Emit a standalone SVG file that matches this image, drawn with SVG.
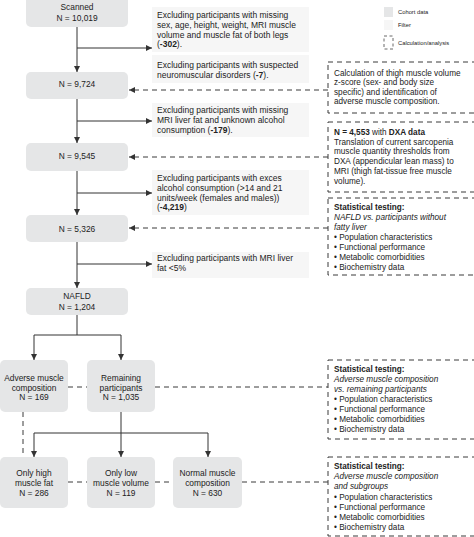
<svg xmlns="http://www.w3.org/2000/svg" width="474" height="537" viewBox="0 0 474 537">
<style>
text{font-family:"Liberation Sans",Arial,sans-serif;fill:#222}
.c{font-size:8.4px;text-anchor:middle}
.f{font-size:8.2px}
.ff{font-size:8.5px}
.lg{font-size:5.8px}
.b{font-weight:bold}
.i{font-style:italic}
.cohort{fill:#e5e6e7}
.filter{fill:#f6f6f6}
.calc{fill:none;stroke:#3a3a3a;stroke-width:1;stroke-dasharray:5 4}
.ln{fill:none;stroke:#333;stroke-width:1}
.dl{fill:none;stroke:#3a3a3a;stroke-width:1;stroke-dasharray:5 4}
</style>
<defs>
<marker id="ah" viewBox="0 0 10 10" refX="10" refY="5" markerWidth="7" markerHeight="6" orient="auto" markerUnits="userSpaceOnUse">
<path d="M0,0 L10,5 L0,10 z" fill="#333"/>
</marker>
</defs>
<rect width="474" height="537" fill="#fff"/>

<g id="legend">
<rect x="384" y="7" width="9" height="10" class="cohort"/>
<text x="398" y="14" class="lg">Cohort data</text>
<rect x="384" y="20" width="9" height="10" class="filter"/>
<text x="398" y="27" class="lg">Filter</text>
<rect x="384" y="36" width="9" height="13" fill="none" stroke="#444" stroke-width="0.8" stroke-dasharray="3 2.5"/>
<text x="398" y="45" class="lg">Calculation/analysis</text>
</g>

<g id="filters">
<g id="filter1">
<rect x="152" y="7" width="157" height="45" class="filter"/>
<text class="ff"><tspan x="157" y="18">Excluding participants with missing</tspan><tspan x="157" y="28">sex, age, height, weight, MRI muscle</tspan><tspan x="157" y="37.5">volume and muscle fat of both legs</tspan><tspan x="157" y="47">(<tspan class="b">-302</tspan>).</tspan></text>
</g>
<g id="filter2">
<rect x="152" y="55" width="157" height="28" class="filter"/>
<text class="ff"><tspan x="157" y="68">Excluding participants with suspected</tspan><tspan x="157" y="77.5">neuromuscular disorders (<tspan class="b">-7</tspan>).</tspan></text>
</g>
<g id="filter3">
<rect x="152" y="103" width="157" height="34" class="filter"/>
<text class="ff"><tspan x="157" y="113">Excluding participants with missing</tspan><tspan x="157" y="123">MRI liver fat and unknown alcohol</tspan><tspan x="157" y="132.5">consumption (<tspan class="b">-179</tspan>).</tspan></text>
</g>
<g id="filter4">
<rect x="152" y="170" width="157" height="45" class="filter"/>
<text class="ff"><tspan x="157" y="181">Excluding participants with exces</tspan><tspan x="157" y="190.8">alcohol consumption (&gt;14 and 21</tspan><tspan x="157" y="200.6">units/week (females and males))</tspan><tspan x="157" y="210.4">(<tspan class="b">-4,219</tspan>)</tspan></text>
</g>
<g id="filter5">
<rect x="152" y="252" width="157" height="26" class="filter"/>
<text class="ff"><tspan x="157" y="261">Excluding participants with MRI liver</tspan><tspan x="157" y="271">fat &lt;5%</tspan></text>
</g>
</g>

<g id="calcs">
<g id="calc1">
<rect x="328" y="62" width="160" height="51" class="calc"/>
<text class="f"><tspan x="334" y="76">Calculation of thigh muscle volume</tspan><tspan x="334" y="85.3">z-score (sex- and body size</tspan><tspan x="334" y="94.6">specific) and identification of</tspan><tspan x="334" y="103.9">adverse muscle composition.</tspan></text>
</g>
<g id="calc2">
<rect x="328" y="122" width="160" height="70" class="calc"/>
<text class="f"><tspan x="334" y="135"><tspan class="b">N = 4,553</tspan> with <tspan class="b">DXA data</tspan></tspan><tspan x="334" y="144.7">Translation of current sarcopenia</tspan><tspan x="334" y="154.4">muscle quantity thresholds from</tspan><tspan x="334" y="164.1">DXA (appendicular lean mass) to</tspan><tspan x="334" y="173.8">MRI (thigh fat-tissue free muscle</tspan><tspan x="334" y="183.5">volume).</tspan></text>
</g>
<g id="calc3">
<rect x="328" y="198" width="160" height="77" class="calc"/>
<text class="f"><tspan x="334" y="210" class="b">Statistical testing:</tspan><tspan x="334" y="220" class="i">NAFLD vs. participants without</tspan><tspan x="334" y="230" class="i">fatty liver</tspan><tspan x="334" y="240.3">• Population characteristics</tspan><tspan x="334" y="250.2">• Functional performance</tspan><tspan x="334" y="260.1">• Metabolic comorbidities</tspan><tspan x="334" y="270">• Biochemistry data</tspan></text>
</g>
<g id="calc4">
<rect x="328" y="360" width="160" height="79" class="calc"/>
<text class="f"><tspan x="334" y="372" class="b">Statistical testing:</tspan><tspan x="334" y="382" class="i">Adverse muscle composition</tspan><tspan x="334" y="392" class="i">vs. remaining participants</tspan><tspan x="334" y="402">• Population characteristics</tspan><tspan x="334" y="412">• Functional performance</tspan><tspan x="334" y="422">• Metabolic comorbidities</tspan><tspan x="334" y="432">• Biochemistry data</tspan></text>
</g>
<g id="calc5">
<rect x="328" y="457" width="160" height="79" class="calc"/>
<text class="f"><tspan x="334" y="469" class="b">Statistical testing:</tspan><tspan x="334" y="479.2" class="i">Adverse muscle composition</tspan><tspan x="334" y="489.4" class="i">and subgroups</tspan><tspan x="334" y="499.6">• Population characteristics</tspan><tspan x="334" y="509.8">• Functional performance</tspan><tspan x="334" y="520">• Metabolic comorbidities</tspan><tspan x="334" y="530.2">• Biochemistry data</tspan></text>
</g>
</g>

<g id="connectors">
<path class="ln" d="M77,27 V72" marker-end="url(#ah)"/>
<path class="ln" d="M77,99 V143" marker-end="url(#ah)"/>
<path class="ln" d="M77,171 V215" marker-end="url(#ah)"/>
<path class="ln" d="M77,242 V288" marker-end="url(#ah)"/>
<path class="ln" d="M77,48 H152" marker-end="url(#ah)"/>
<path class="ln" d="M77,121 H152" marker-end="url(#ah)"/>
<path class="ln" d="M77,193 H152" marker-end="url(#ah)"/>
<path class="ln" d="M77,264 H152" marker-end="url(#ah)"/>
<path class="ln" d="M77,315 V335 M34,335 H121"/>
<path class="ln" d="M34,335 V360" marker-end="url(#ah)"/>
<path class="ln" d="M121,335 V360" marker-end="url(#ah)"/>
<path class="ln" d="M121,412 V433 M34,433 H208"/>
<path class="ln" d="M34,433 V457" marker-end="url(#ah)"/>
<path class="ln" d="M121,433 V457" marker-end="url(#ah)"/>
<path class="ln" d="M208,433 V457" marker-end="url(#ah)"/>
<path class="dl" d="M328,90 H129" marker-end="url(#ah)"/>
<path class="dl" d="M328,157 H129" marker-end="url(#ah)"/>
<path class="dl" d="M328,228 H129" marker-end="url(#ah)"/>
<path class="dl" d="M68,387 H87 M155,387 H328"/>
<path class="dl" d="M68,482 H87 M155,482 H173 M242,482 H328"/>
<path class="dl" d="M23,412 V457"/>
</g>

<g id="cohorts">
<g id="scanned"><rect x="26" y="-4" width="102" height="31" rx="5" class="cohort"/><text class="c"><tspan x="77" y="10">Scanned</tspan><tspan x="77" y="21">N = 10,019</tspan></text></g>
<g id="n9724"><rect x="26" y="72" width="102" height="27" rx="5" class="cohort"/><text x="77" y="87" class="c">N = 9,724</text></g>
<g id="n9545"><rect x="26" y="143" width="102" height="28" rx="5" class="cohort"/><text x="77" y="159" class="c">N = 9,545</text></g>
<g id="n5326"><rect x="26" y="215" width="102" height="27" rx="5" class="cohort"/><text x="77" y="231.5" class="c">N = 5,326</text></g>
<g id="nafld"><rect x="26" y="288" width="102" height="27" rx="5" class="cohort"/><text class="c"><tspan x="77" y="299">NAFLD</tspan><tspan x="77" y="310">N = 1,204</tspan></text></g>
<g id="adverse"><rect x="0" y="360" width="68" height="52" rx="5" class="cohort"/><text class="c"><tspan x="34" y="381">Adverse muscle</tspan><tspan x="34" y="390.5">composition</tspan><tspan x="34" y="400">N = 169</tspan></text></g>
<g id="remaining"><rect x="87" y="360" width="68" height="52" rx="5" class="cohort"/><text class="c"><tspan x="121" y="381">Remaining</tspan><tspan x="121" y="390.5">participants</tspan><tspan x="121" y="400">N = 1,035</tspan></text></g>
<g id="highfat"><rect x="0" y="457" width="68" height="51" rx="5" class="cohort"/><text class="c"><tspan x="34" y="476">Only high</tspan><tspan x="34" y="486">muscle fat</tspan><tspan x="34" y="496">N = 286</tspan></text></g>
<g id="lowvol"><rect x="87" y="457" width="68" height="51" rx="5" class="cohort"/><text class="c"><tspan x="121" y="476">Only low</tspan><tspan x="121" y="486">muscle volume</tspan><tspan x="121" y="496">N = 119</tspan></text></g>
<g id="normal"><rect x="173" y="457" width="69" height="51" rx="5" class="cohort"/><text class="c"><tspan x="207.5" y="476">Normal muscle</tspan><tspan x="207.5" y="486">composition</tspan><tspan x="207.5" y="496">N = 630</tspan></text></g>
</g>
</svg>
